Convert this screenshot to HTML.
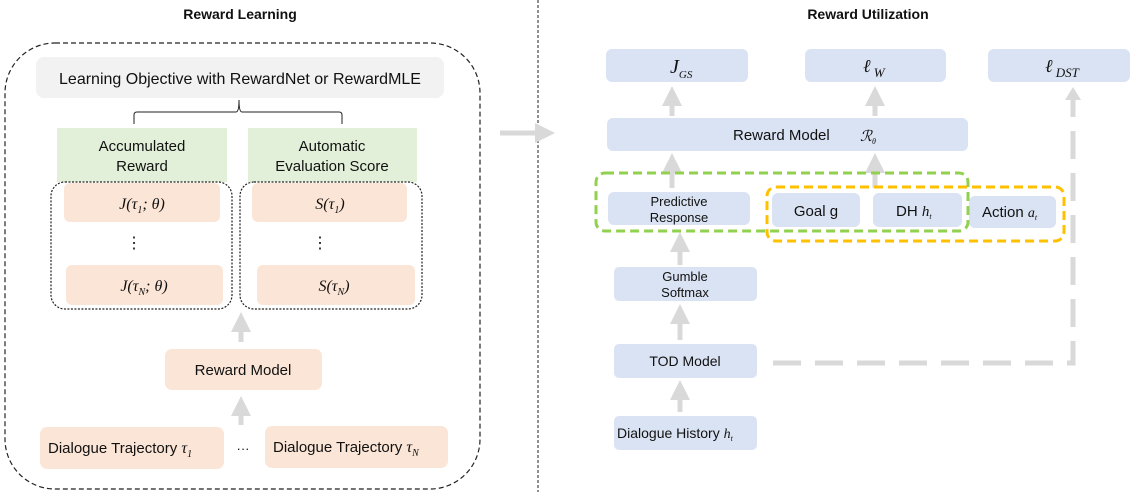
<!DOCTYPE html>
<html><head><meta charset="utf-8"><style>
body{margin:0;background:#fff;width:1134px;height:492px;overflow:hidden}
svg{display:block}
text{font-family:"Liberation Sans",Arial,sans-serif;fill:#111}
.m{font-family:"Liberation Serif",serif;font-style:italic}
</style></head><body>
<svg width="1134" height="492" viewBox="0 0 1134 492">
<defs>
<marker id="ah" markerWidth="4" markerHeight="4" refX="2" refY="2" orient="auto" markerUnits="strokeWidth"><path d="M0,0 L4,2 L0,4 z" fill="#d9d9d9"/></marker>
</defs>
<!-- titles -->
<text x="240" y="19" font-size="14" font-weight="bold" text-anchor="middle">Reward Learning</text>
<text x="868" y="19" font-size="14" font-weight="bold" text-anchor="middle">Reward Utilization</text>
<!-- divider -->
<line x1="538" y1="0" x2="538" y2="492" stroke="#222" stroke-width="1" stroke-dasharray="3,2"/>
<!-- big dashed -->
<rect x="5" y="43" width="475" height="446" rx="50" fill="none" stroke="#222" stroke-width="1.2" stroke-dasharray="5,3"/>
<!-- gray box -->
<rect x="36" y="57" width="408" height="41" rx="8" fill="#f2f2f2"/>
<text x="240" y="84" font-size="16" text-anchor="middle">Learning Objective with RewardNet or RewardMLE</text>
<!-- brace -->
<path d="M134,124 L134,115 Q134,112 137,112 L236,112 Q239,112 239,100 Q239,112 242,112 L339,112 Q342,112 342,115 L342,124" fill="none" stroke="#222" stroke-width="1"/>
<!-- green -->
<rect x="57" y="128" width="170" height="54" fill="#e2f0d9"/>
<text x="142" y="151" font-size="15" text-anchor="middle">Accumulated</text>
<text x="142" y="171" font-size="15" text-anchor="middle">Reward</text>
<rect x="248" y="128" width="169" height="54" fill="#e2f0d9"/>
<text x="332" y="151" font-size="15" text-anchor="middle">Automatic</text>
<text x="332" y="171" font-size="15" text-anchor="middle">Evaluation Score</text>
<!-- inner dashed -->
<rect x="51" y="182" width="181" height="127" rx="14" fill="none" stroke="#222" stroke-width="1.2" stroke-dasharray="2,1.5"/>
<rect x="240" y="182" width="182" height="127" rx="14" fill="none" stroke="#222" stroke-width="1.2" stroke-dasharray="2,1.5"/>
<!-- peach -->
<rect x="64" y="183" width="156" height="39" rx="6" fill="#fbe5d6"/>
<text x="142" y="209" font-size="16" text-anchor="middle" class="m">J(τ<tspan font-size="10" dy="4">1</tspan><tspan dy="-4">; θ)</tspan></text>
<rect x="252" y="183" width="155" height="39" rx="6" fill="#fbe5d6"/>
<text x="330" y="209" font-size="16" text-anchor="middle" class="m">S(τ<tspan font-size="10" dy="4">1</tspan><tspan dy="-4">)</tspan></text>
<text x="134" y="248" font-size="16" text-anchor="middle">⋮</text>
<text x="320" y="248" font-size="16" text-anchor="middle">⋮</text>
<rect x="66" y="265" width="157" height="40" rx="6" fill="#fbe5d6"/>
<text x="144" y="291" font-size="16" text-anchor="middle" class="m">J(τ<tspan font-size="10" dy="4">N</tspan><tspan dy="-4">; θ)</tspan></text>
<rect x="257" y="265" width="158" height="40" rx="6" fill="#fbe5d6"/>
<text x="334" y="291" font-size="16" text-anchor="middle" class="m">S(τ<tspan font-size="10" dy="4">N</tspan><tspan dy="-4">)</tspan></text>
<!-- arrows left -->
<line x1="241" y1="342" x2="241" y2="322" stroke="#d9d9d9" stroke-width="5" marker-end="url(#ah)"/>
<rect x="165" y="349" width="157" height="41" rx="7" fill="#fbe5d6"/>
<text x="243" y="375" font-size="15" text-anchor="middle">Reward Model</text>
<line x1="241" y1="425" x2="241" y2="406" stroke="#d9d9d9" stroke-width="5" marker-end="url(#ah)"/>
<rect x="40" y="427" width="184" height="42" rx="7" fill="#fbe5d6"/>
<text x="48" y="453" font-size="15">Dialogue Trajectory <tspan class="m" font-size="16">τ</tspan><tspan class="m" font-size="10" dy="4">1</tspan></text>
<text x="243" y="453" font-size="13" text-anchor="middle">···</text>
<rect x="265" y="426" width="183" height="42" rx="7" fill="#fbe5d6"/>
<text x="273" y="452" font-size="15">Dialogue Trajectory <tspan class="m" font-size="16">τ</tspan><tspan class="m" font-size="10" dy="4">N</tspan></text>
<!-- middle arrow -->
<line x1="500" y1="133" x2="545" y2="133" stroke="#d9d9d9" stroke-width="5" marker-end="url(#ah)"/>
<!-- right top boxes -->
<rect x="606" y="49" width="142" height="33" rx="6" fill="#dae3f3"/>
<text x="670" y="73" font-size="20" class="m">J<tspan font-size="11" dy="5">GS</tspan></text>
<rect x="805" y="49" width="141" height="33" rx="6" fill="#dae3f3"/>
<text x="863" y="72" font-size="18" class="m">ℓ<tspan font-size="13" dy="5"> W</tspan></text>
<rect x="988" y="49" width="142" height="33" rx="6" fill="#dae3f3"/>
<text x="1045" y="72" font-size="18" class="m">ℓ<tspan font-size="13" dy="5"> DST</tspan></text>
<line x1="672" y1="116" x2="672" y2="96" stroke="#d9d9d9" stroke-width="5" marker-end="url(#ah)"/>
<line x1="875" y1="116" x2="875" y2="96" stroke="#d9d9d9" stroke-width="5" marker-end="url(#ah)"/>
<rect x="607" y="118" width="361" height="33" rx="6" fill="#dae3f3"/>
<text x="733" y="140" font-size="15">Reward Model</text>
<text x="860" y="141" font-size="15" class="m" font-family="Liberation Serif">ℛ<tspan font-size="8" dy="3">θ</tspan></text>
<line x1="672" y1="188" x2="672" y2="163" stroke="#d9d9d9" stroke-width="5" marker-end="url(#ah)"/>
<line x1="875" y1="188" x2="875" y2="163" stroke="#d9d9d9" stroke-width="5" marker-end="url(#ah)"/>
<!-- row -->
<rect x="608" y="192" width="142" height="33" rx="6" fill="#dae3f3"/>
<text x="679" y="206" font-size="13" text-anchor="middle">Predictive</text>
<text x="679" y="222" font-size="13" text-anchor="middle">Response</text>
<rect x="772" y="193" width="88" height="34" rx="6" fill="#dae3f3"/>
<text x="816" y="216" font-size="15" text-anchor="middle">Goal g</text>
<rect x="873" y="193" width="89" height="34" rx="6" fill="#dae3f3"/>
<text x="896" y="216" font-size="15">DH <tspan class="m" font-size="15">h</tspan><tspan class="m" font-size="8" dy="3">t</tspan></text>
<rect x="969" y="196" width="87" height="32" rx="6" fill="#dae3f3"/>
<text x="982" y="217" font-size="15">Action <tspan class="m" font-size="14">a</tspan><tspan class="m" font-size="8" dy="3">t</tspan></text>
<rect x="596" y="173" width="372" height="58" rx="9" fill="none" stroke="#92d050" stroke-width="3" stroke-dasharray="9,5"/>
<rect x="767" y="187" width="297" height="54" rx="9" fill="none" stroke="#ffc000" stroke-width="3" stroke-dasharray="9,5"/>
<!-- lower -->
<line x1="680" y1="265" x2="680" y2="242" stroke="#d9d9d9" stroke-width="5" marker-end="url(#ah)"/>
<rect x="614" y="267" width="143" height="34" rx="5" fill="#dae3f3"/>
<text x="685" y="281" font-size="13" text-anchor="middle">Gumble</text>
<text x="685" y="297" font-size="13" text-anchor="middle">Softmax</text>
<line x1="680" y1="340" x2="680" y2="314" stroke="#d9d9d9" stroke-width="5" marker-end="url(#ah)"/>
<rect x="614" y="344" width="143" height="34" rx="5" fill="#dae3f3"/>
<text x="685" y="366" font-size="14" text-anchor="middle">TOD Model</text>
<line x1="680" y1="412" x2="680" y2="390" stroke="#d9d9d9" stroke-width="5" marker-end="url(#ah)"/>
<rect x="614" y="416" width="143" height="34" rx="5" fill="#dae3f3"/>
<text x="617" y="438" font-size="14">Dialogue History <tspan class="m">h</tspan><tspan class="m" font-size="8" dy="3">t</tspan></text>
<!-- dashed connector -->
<polyline points="773,363 1073,363 1073,100" fill="none" stroke="#d9d9d9" stroke-width="5" stroke-dasharray="28,14"/>
<path d="M1065,100 L1073,87 L1081,100 z" fill="#d9d9d9"/>
</svg>
</body></html>
